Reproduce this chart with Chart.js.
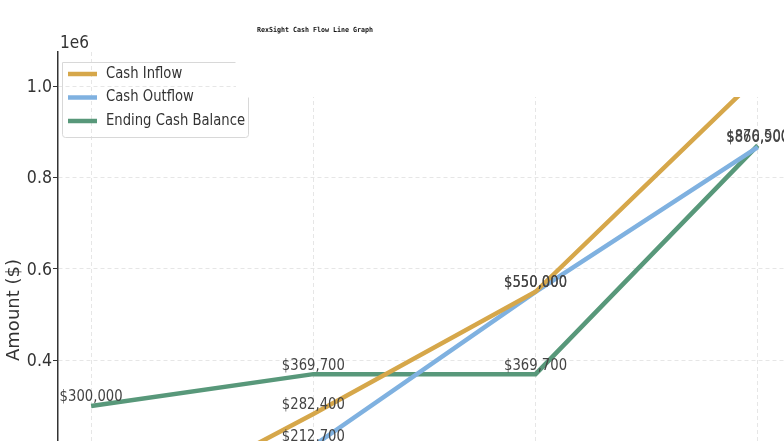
<!DOCTYPE html>
<html>
<head>
<meta charset="utf-8">
<script src="https://cdn.jsdelivr.net/npm/chart.js@4"></script>
<style>
  html, body { margin: 0; padding: 0; background: #fff; overflow: hidden; }
  #wrap { width: 784px; height: 441px; overflow: hidden; position: relative; }
</style>
</head>
<body>
<div id="wrap"><canvas id="cashChart" width="1000" height="600"></canvas></div>
<script>
// periods along the x axis
const periods = ['Q1', 'Q2', 'Q3', 'Q4'];
const cashInflow = [25000, 282400, 550000, 1020000];
const cashOutflow = [15000, 212700, 550000, 866900];
const endingBalance = [300000, 369700, 369700, 870500];
const yTicks = [0, 200000, 400000, 600000, 800000, 1000000];

const seriesNames = ['Cash Inflow', 'Cash Outflow', 'Ending Cash Balance'];
const seriesColors = ['#d6a74a', '#7fb1e0', '#58987a'];

const font = '"DejaVu Sans", "Liberation Sans", sans-serif';
const squeeze = 0.88; // the source text is a little narrow

function points(arr) {
    return arr.map((v, i) => ({ x: i, y: v }));
}

function narrowText(ctx, text, x, y) {
    ctx.save();
    ctx.translate(x, y);
    ctx.scale(squeeze, 1);
    ctx.fillText(text, 0, 0);
    ctx.restore();
}

// value labels, legend, title and the cut-off top strip
const extras = {
    id: 'extras',
    afterDatasetsDraw(chart) {
        const ctx = chart.ctx;
        ctx.save();
        ctx.font = '15px ' + font;
        ctx.fillStyle = '#444';
        ctx.textAlign = 'center';
        ctx.textBaseline = 'bottom';
        chart.data.datasets.forEach((ds, di) => {
            const meta = chart.getDatasetMeta(di);
            meta.data.forEach((pt, i) => {
                const v = ds.data[i].y;
                narrowText(ctx, '$' + v.toLocaleString('en-US'), pt.x, pt.y - 1);
            });
        });
        ctx.restore();
    },
    afterDraw(chart) {
        const ctx = chart.ctx;
        ctx.save();
        // blank strip above the plotting region (as in the source image)
        ctx.fillStyle = '#fff';
        ctx.fillRect(236, 36, chart.width - 236, 61);

        // y tick labels
        const ys = chart.scales.y;
        ctx.font = '18px ' + font;
        ctx.fillStyle = '#333';
        ctx.textAlign = 'right';
        ctx.textBaseline = 'middle';
        yTicks.forEach(v => {
            narrowText(ctx, (v / 1e6).toFixed(1), 52, ys.getPixelForValue(v) + 1);
        });

        // legend box
        ctx.fillStyle = 'rgba(255,255,255,0.85)';
        ctx.strokeStyle = '#d8d8d8';
        ctx.lineWidth = 1;
        ctx.beginPath();
        ctx.moveTo(62.5, 62.5);
        ctx.lineTo(235.5, 62.5);
        ctx.moveTo(248.5, 97.5);
        ctx.lineTo(248.5, 134.5);
        ctx.arcTo(248.5, 137.5, 245.5, 137.5, 3);
        ctx.lineTo(65.5, 137.5);
        ctx.arcTo(62.5, 137.5, 62.5, 134.5, 3);
        ctx.lineTo(62.5, 62.5);
        ctx.stroke();

        ctx.font = '15px ' + font;
        ctx.textAlign = 'left';
        ctx.textBaseline = 'middle';
        seriesNames.forEach((name, i) => {
            const y = 74 + i * 23.5;
            ctx.strokeStyle = seriesColors[i];
            ctx.lineWidth = 4.5;
            ctx.beginPath();
            ctx.moveTo(68, y);
            ctx.lineTo(97, y);
            ctx.stroke();
            ctx.fillStyle = '#333';
            narrowText(ctx, name, 106, y);
        });

        // offset text for the y axis
        ctx.font = '17.5px ' + font;
        ctx.fillStyle = '#333';
        narrowText(ctx, '1e6', 60, 43);

        // y axis title
        ctx.translate(14, 310);
        ctx.rotate(-Math.PI / 2);
        ctx.textAlign = 'center';
        ctx.font = '18px ' + font;
        ctx.fillText('Amount ($)', 0, 0);
        ctx.restore();

        // tiny title
        ctx.save();
        ctx.font = 'bold 7px "DejaVu Sans Mono", monospace';
        ctx.fillStyle = '#111';
        ctx.textAlign = 'center';
        ctx.textBaseline = 'middle';
        ctx.translate(315, 30);
        ctx.scale(0.95, 1);
        ctx.fillText('RexSight Cash Flow Line Graph', 0, 0);
        ctx.restore();
    }
};

document.addEventListener('DOMContentLoaded', function() {
    const ctx = document.getElementById('cashChart').getContext('2d');
    const sets = [cashInflow, cashOutflow, endingBalance];
    new Chart(ctx, {
        type: 'line',
        data: {
            datasets: sets.map((arr, i) => ({
                label: seriesNames[i],
                data: points(arr),
                borderColor: seriesColors[i],
                backgroundColor: seriesColors[i],
                borderWidth: 4.5,
                pointRadius: 0,
                tension: 0,
                clip: { left: false, right: false, top: -45, bottom: false }
            }))
        },
        options: {
            responsive: false,
            animation: false,
            devicePixelRatio: 1,
            layout: { padding: { top: 52, left: 0, right: 0, bottom: 0 } },
            plugins: {
                legend: { display: false },
                tooltip: { enabled: false }
            },
            scales: {
                x: {
                    type: 'linear',
                    min: -0.149,
                    max: 4.09,
                    afterBuildTicks: s => { s.ticks = periods.map((p, i) => ({ value: i })); },
                    afterFit: s => { s.height = 57; },
                    ticks: {
                        callback: v => periods[v] || '',
                        font: { family: font, size: 17 },
                        color: '#333'
                    },
                    grid: { color: '#e6e6e6', tickColor: '#333', tickLength: 5 },
                    border: { color: '#333', width: 1.5, dash: [4, 3] }
                },
                y: {
                    min: 0,
                    max: 1075000,
                    afterBuildTicks: s => { s.ticks = yTicks.map(v => ({ value: v })); },
                    afterFit: s => { s.width = 58; },
                    ticks: {
                        callback: v => (v / 1e6).toFixed(1),
                        font: { family: font, size: 18 },
                        color: 'rgba(0,0,0,0)',
                        padding: 2
                    },
                    grid: { color: '#e6e6e6', tickColor: '#333', tickLength: 5, tickBorderDash: [] },
                    border: { color: '#333', width: 1.5, dash: [4, 3] }
                }
            }
        },
        plugins: [extras]
    });
});
</script>
</body>
</html>
